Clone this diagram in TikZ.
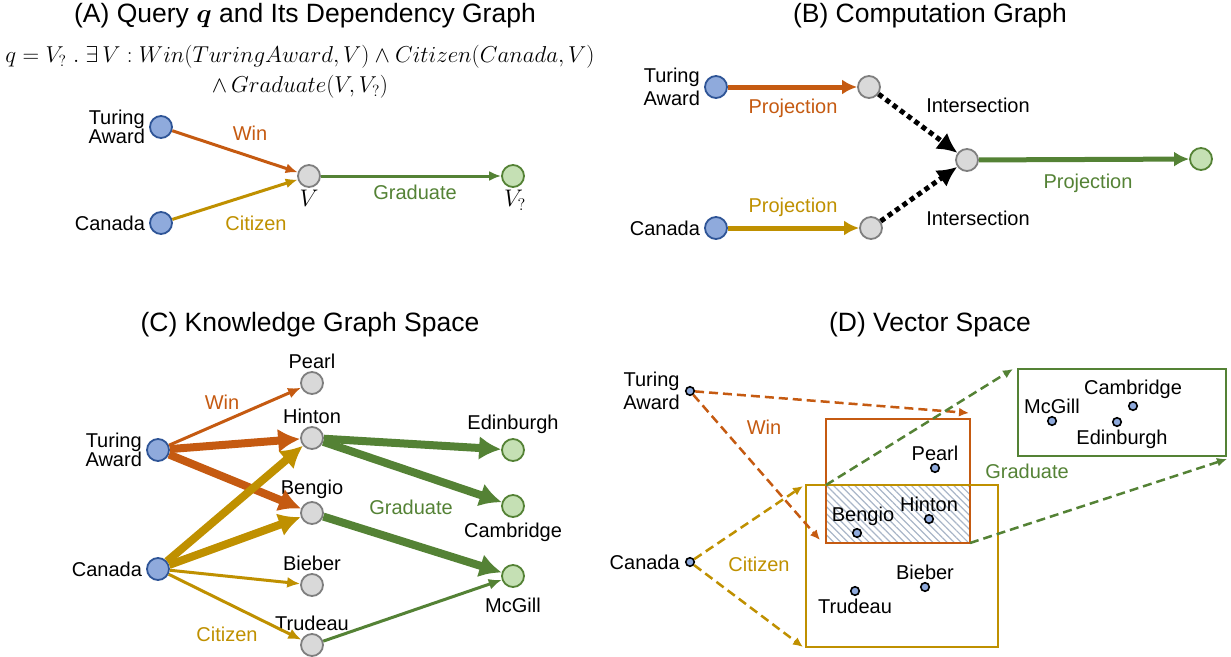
\RequirePackage{fix-cm}
\documentclass[tikz,border=0pt]{standalone}
\usepackage[no-math]{fontspec}
\setmainfont{Liberation Sans}
\usepackage{amsmath}
\usepackage{bm}
\usepackage{tikz}
\usetikzlibrary{positioning,arrows.meta,patterns.meta}
\tikzset{>=latex}
\definecolor{winc}{HTML}{C55A11}
\definecolor{citc}{HTML}{BF9000}
\definecolor{grdc}{HTML}{548235}
\definecolor{entf}{HTML}{8FAADC}
\definecolor{entd}{HTML}{2F5597}
\definecolor{varf}{HTML}{D9D9D9}
\definecolor{vard}{HTML}{7F7F7F}
\definecolor{ansf}{HTML}{C5E0B4}
\definecolor{hatchc}{HTML}{A9B6C8}

\begin{document}
\begin{tikzpicture}[x=1pt, y=-1pt]
\tikzset{ent/.style={circle, draw=entd, fill=entf, line width=1.8pt, minimum size=22pt, inner sep=0pt},
  var/.style={ent, draw=vard, fill=varf},
  ans/.style={ent, draw=grdc, fill=ansf},
  dot/.style={circle, draw=black, fill=entf, line width=1.6pt, minimum size=8.5pt, inner sep=0pt},
  lbl/.style={font=\fontsize{20}{21}\selectfont, inner sep=1pt, align=center},
  ttl/.style={font=\fontsize{26.5}{30}\selectfont},
  fml/.style={font=\fontsize{23}{26}\selectfont},
  relA/.style={line width=3pt, -{Latex[length=12pt, width=10pt]}},
  relB/.style={line width=5pt, -{Latex[length=15pt, width=15pt]}},
  relC/.style={line width=3pt, -{Latex[length=13pt, width=11pt]}},
  relCC/.style={line width=8pt, -{Latex[length=22pt, width=24pt]}},
  isect/.style={line width=5pt, dash pattern=on 5pt off 4pt, -{Latex[length=20pt, width=20pt]}},
  dsh/.style={line width=2.5pt, dash pattern=on 9pt off 5pt, -{Latex[length=10pt, width=9pt]}}}
\useasboundingbox (0,0) rectangle (1231,656);
% (A) query and dependency graph
\node[ttl] (ttlA) at (305,16) {(A) Query $\bm{q}$ and Its Dependency Graph};
\node[fml] (fmlA) at (300,57) {$q = V_?\ .\ \exists\, V : Win(TuringAward, V) \wedge Citizen(Canada, V)$};
\node[fml] (fmlB) at (300,87) {$\wedge\, Graduate(V, V_?)$};
\node[ent] (taA) at (161,127) {};
\node[ent] (cnA) at (161,223) {};
\node[var] (vA) at (309,176) {};
\node[ans] (vqA) at (513,176) {};
\node[lbl, left=3pt of taA, font=\fontsize{20}{19}\selectfont] (taAl) {Turing\\Award};
\node[lbl, left=3pt of cnA] (cnAl) {Canada};
\node[font=\fontsize{24}{26}\selectfont, below=-1pt of vA] (vAl) {$V$};
\node[font=\fontsize{24}{26}\selectfont, below=-1pt of vqA, xshift=2pt] (vqAl) {$V_?$};
\draw[relA, winc] (taA) -- (vA);
\draw[relA, citc] (cnA) -- (vA);
\draw[relA, grdc] (vA) -- (vqA);
\node[lbl, text=winc] (winA) at (250,133) {Win};
\node[lbl, text=citc] (citA) at (256,223) {Citizen};
\node[lbl, text=grdc] (grdA) at (415,192) {Graduate};
% (B) computation graph
\node[ttl] (ttlB) at (930,16) {(B) Computation Graph};
\node[ent] (taB) at (716,87) {};
\node[ent] (cnB) at (716,228) {};
\node[var] (p1B) at (869,87) {};
\node[var] (p2B) at (871,228) {};
\node[var] (itB) at (967,160) {};
\node[ans] (outB) at (1201,159) {};
\node[lbl, left=3pt of taB, font=\fontsize{20}{23}\selectfont] (taBl) {Turing\\Award};
\node[lbl, left=3pt of cnB] (cnBl) {Canada};
\draw[relB, winc] (taB) -- (p1B);
\draw[relB, citc] (cnB) -- (p2B);
\draw[relB, grdc] (itB) -- (outB);
\draw[isect] (p1B) -- (itB);
\draw[isect] (p2B) -- (itB);
\node[lbl, text=winc] (prjB1) at (793,108) {Projection};
\node[lbl, text=citc] (prjB2) at (793,207) {Projection};
\node[lbl, text=grdc] (prjB3) at (1088,183) {Projection};
\node[lbl] (isB1) at (978,105) {Intersection};
\node[lbl] (isB2) at (978,218) {Intersection};
% (C) knowledge graph space
\node[ttl] (ttlC) at (310,325) {(C) Knowledge Graph Space};
\node[ent] (taC) at (158,450) {};
\node[ent] (cnC) at (158,569) {};
\node[var] (pearlC) at (312,383) {};
\node[var] (hintonC) at (312,438) {};
\node[var] (bengioC) at (312,513) {};
\node[var] (bieberC) at (312,585) {};
\node[var] (trudeauC) at (312,645) {};
\node[ans] (edinC) at (513,450) {};
\node[ans] (cambC) at (513,506) {};
\node[ans] (mcgillC) at (513,576) {};
\node[lbl, left=3pt of taC, font=\fontsize{20}{19}\selectfont] (taCl) {Turing\\Award};
\node[lbl, left=3pt of cnC] (cnCl) {Canada};
\node[lbl, above=1pt of pearlC] (pearlCl) {Pearl};
\node[lbl, above=1pt of hintonC] (hintonCl) {Hinton};
\node[lbl, above=1pt of bengioC] (bengioCl) {Bengio};
\node[lbl, above=1pt of bieberC] (bieberCl) {Bieber};
\node[lbl, above=1pt of trudeauC] (trudeauCl) {Trudeau};
\node[lbl, above=3pt of edinC] (edinCl) {Edinburgh};
\node[lbl, below=4pt of cambC] (cambCl) {Cambridge};
\node[lbl, below=9pt of mcgillC] (mcgillCl) {McGill};
\draw[relC, winc] (taC) -- (pearlC);
\draw[relCC, winc] (taC) -- (hintonC);
\draw[relCC, winc] (taC) -- (bengioC);
\draw[relCC, citc] (cnC) -- (hintonC);
\draw[relCC, citc] (cnC) -- (bengioC);
\draw[relC, citc] (cnC) -- (bieberC);
\draw[relC, citc] (cnC) -- (trudeauC);
\draw[relCC, grdc] (hintonC) -- (edinC);
\draw[relCC, grdc] (hintonC) -- (cambC);
\draw[relCC, grdc] (bengioC) -- (mcgillC);
\draw[relC, grdc] (trudeauC) -- (mcgillC);
\node[lbl, text=winc] (winC) at (222,402) {Win};
\node[lbl, text=citc] (citC) at (227,634) {Citizen};
\node[lbl, text=grdc] (grdC) at (411,507) {Graduate};
% (D) vector space
\node[ttl] (ttlD) at (930,325) {(D) Vector Space};
\fill[white, pattern={Lines[angle=-45, distance=5pt, line width=1.2pt]}, pattern color=hatchc] (826,485) rectangle (970,543);
\draw[winc, line width=2.5pt] (826,419) rectangle (970,543);
\draw[citc, line width=2.5pt] (806,485) rectangle (998,647);
\draw[grdc, line width=2.5pt] (1018,369) rectangle (1226,456);
\coordinate (winTR) at (969,413);
\coordinate (winBL) at (820,540);
\coordinate (citTL) at (803,486);
\coordinate (citBL) at (803,647);
\coordinate (isTL) at (826,485);
\coordinate (isBR) at (970,543);
\coordinate (grdTL) at (1013,369);
\coordinate (grdBR) at (1227,459);
\node[dot] (taD) at (690,391) {};
\node[dot] (cnD) at (690,562) {};
\node[dot] (pearlD) at (935,468) {};
\node[dot] (hintonD) at (929,519) {};
\node[dot] (bengioD) at (857,533) {};
\node[dot] (bieberD) at (925,587) {};
\node[dot] (trudeauD) at (855,591) {};
\node[dot] (mcgillD) at (1052,421) {};
\node[dot] (cambD) at (1133,406) {};
\node[dot] (edinD) at (1117,422) {};
\node[lbl, left=4pt of taD, font=\fontsize{20}{23}\selectfont] (taDl) {Turing\\Award};
\node[lbl, left=4pt of cnD] (cnDl) {Canada};
\node[lbl, above=1pt of pearlD] (pearlDl) {Pearl};
\node[lbl, above=1pt of hintonD] (hintonDl) {Hinton};
\node[lbl, above=1pt of bengioD, xshift=6pt] (bengioDl) {Bengio};
\node[lbl, above=1pt of bieberD] (bieberDl) {Bieber};
\node[lbl, below=2pt of trudeauD] (trudeauDl) {Trudeau};
\node[lbl, above=1pt of mcgillD] (mcgillDl) {McGill};
\node[lbl, above=1pt of cambD] (cambDl) {Cambridge};
\node[lbl, below=2pt of edinD, xshift=5pt] (edinDl) {Edinburgh};
\draw[dsh, winc] (taD) -- (winTR);
\draw[dsh, winc] (taD) -- (winBL);
\draw[dsh, citc] (cnD) -- (citTL);
\draw[dsh, citc] (cnD) -- (citBL);
\draw[dsh, grdc] (isTL) -- (grdTL);
\draw[dsh, grdc] (isBR) -- (grdBR);
\node[lbl, text=winc] (winD) at (764,427) {Win};
\node[lbl, text=citc] (citD) at (759,564) {Citizen};
\node[lbl, text=grdc] (grdD) at (1027,471) {Graduate};
\end{tikzpicture}
\end{document}
